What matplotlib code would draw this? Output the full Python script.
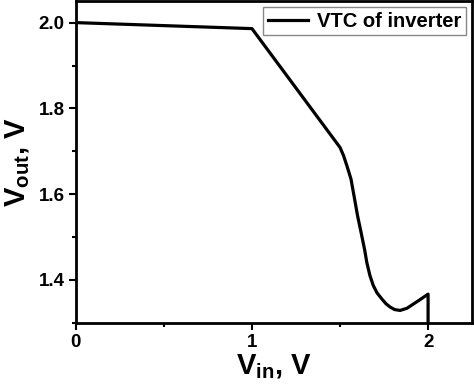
import numpy as np
import matplotlib
matplotlib.use("Agg")
from matplotlib import pyplot as plt
from matplotlib.ticker import MultipleLocator

# VTC of inverter
v_in = [0.0, 1.0, 1.5, 1.52, 1.54, 1.5625, 1.58, 1.60, 1.62, 1.64, 1.652, 1.67,
        1.689, 1.71, 1.737, 1.76, 1.784, 1.81, 1.841, 1.88, 1.917, 1.95, 2.0, 2.0]
v_out = [2.0, 1.986, 1.709, 1.690, 1.665, 1.635, 1.595, 1.549, 1.510, 1.470, 1.441, 1.410,
         1.387, 1.370, 1.356, 1.345, 1.337, 1.331, 1.329, 1.334, 1.344, 1.353, 1.367, 1.29]
series_label = "VTC of inverter"
x_ticks = [0, 1, 2]
y_ticks = [1.4, 1.6, 1.8, 2.0]

plt.rcParams['font.family'] = ['Liberation Sans', 'DejaVu Sans']
plt.rcParams['font.weight'] = 'bold'
plt.rcParams['mathtext.fontset'] = 'custom'
plt.rcParams['mathtext.rm'] = 'Liberation Sans:bold'
plt.rcParams['mathtext.bf'] = 'Liberation Sans:bold'
plt.rcParams['mathtext.it'] = 'Liberation Sans:bold'

fig = plt.figure(figsize=(4.74, 3.89), dpi=100)
ax = fig.add_axes([0.160, 0.170, 0.836, 0.827])

ax.plot(v_in, v_out, color='black', lw=2.3, label=series_label, solid_joinstyle='round')

ax.set_xlim(0, 2.25)
ax.set_ylim(1.3, 2.05)
ax.set_xticks(x_ticks)
ax.set_xticklabels([str(t) for t in x_ticks])
ax.set_yticks(y_ticks)
ax.set_yticklabels([f"{t:.1f}" for t in y_ticks])
ax.xaxis.set_minor_locator(MultipleLocator(0.5))
ax.yaxis.set_minor_locator(MultipleLocator(0.1))
ax.tick_params(which='major', direction='out', length=5, width=1.5, labelsize=13.5, pad=3)
ax.tick_params(which='minor', direction='out', length=3, width=1.5)
for s in ax.spines.values():
    s.set_linewidth(2)

ax.set_xlabel(r'$\mathrm{V_{in}}$, V', fontsize=21, fontweight='bold', labelpad=1)
ax.set_ylabel(r'$\mathrm{V_{out}}$, V', fontsize=21, fontweight='bold', labelpad=5)

leg = ax.legend(loc='upper right', fontsize=14.5, fancybox=False, framealpha=1,
                edgecolor='#888888', handlelength=2.0, borderpad=0.22,
                handletextpad=0.45, borderaxespad=0.3)
leg.get_frame().set_linewidth(1)

fig.savefig("out.png", dpi=100)
